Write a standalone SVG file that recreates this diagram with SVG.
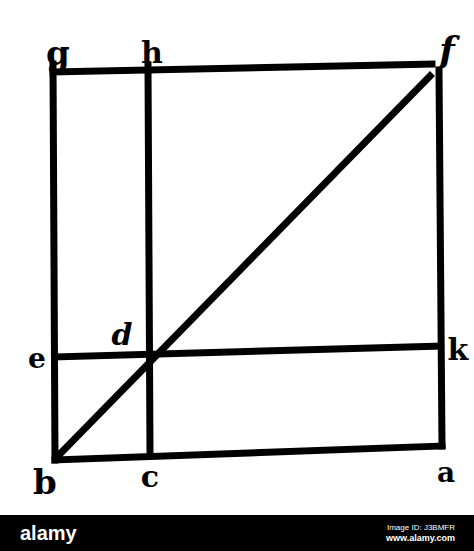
<svg xmlns="http://www.w3.org/2000/svg" width="474" height="551" viewBox="0 0 474 551">
<style>
.ln{stroke:#000;stroke-width:7;stroke-linecap:square;fill:none}
.lb{font-family:"DejaVu Serif","Liberation Serif",serif;font-weight:bold;fill:#000}
.wm{font-family:"Liberation Sans","DejaVu Sans",sans-serif;fill:#fff}
</style>
<rect width="474" height="551" fill="#fff"/>
<g id="connectors">
<line class="ln" x1="53" y1="64" x2="55" y2="460"/>
<line class="ln" x1="53" y1="72" x2="432" y2="64"/>
<line class="ln" x1="148" y1="66" x2="150" y2="454"/>
<line class="ln" x1="439" y1="70" x2="442" y2="446"/>
<line class="ln" x1="55" y1="357" x2="440" y2="346"/>
<line class="ln" x1="55" y1="460" x2="442" y2="446"/>
<line class="ln" x1="56" y1="458" x2="430" y2="76"/>
</g>
<g id="g"><text class="lb" x="58" y="65" font-size="34" text-anchor="middle">g</text></g>
<g id="h"><text class="lb" x="152" y="63" font-size="30" text-anchor="middle">h</text></g>
<g id="f"><text class="lb" x="447" y="62" font-size="36" text-anchor="middle" font-style="italic">f</text></g>
<g id="d"><text class="lb" x="122" y="345" font-size="30" text-anchor="middle" font-style="italic">d</text></g>
<g id="e"><text class="lb" x="37" y="368" font-size="28" text-anchor="middle">e</text></g>
<g id="k"><text class="lb" x="458" y="360" font-size="30" text-anchor="middle">k</text></g>
<g id="b"><text class="lb" x="45" y="494" font-size="34" text-anchor="middle">b</text></g>
<g id="c"><text class="lb" x="150" y="487" font-size="30" text-anchor="middle">c</text></g>
<g id="a"><text class="lb" x="446" y="482" font-size="28" text-anchor="middle">a</text></g>
<rect x="0" y="515" width="474" height="36" fill="#000"/>
<text class="wm" x="20" y="540" font-size="20" font-weight="bold">alamy</text>
<text class="wm" x="455" y="530" font-size="8" text-anchor="end">Image ID: J3BMFR</text>
<text class="wm" x="455" y="541" font-size="9" font-weight="bold" text-anchor="end">www.alamy.com</text>
</svg>
